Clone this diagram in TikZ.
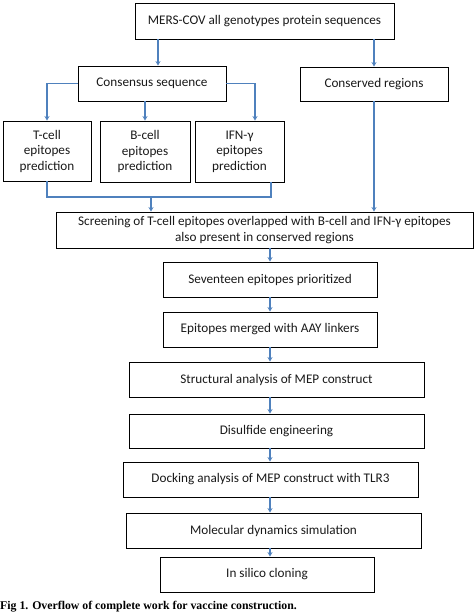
\documentclass[tikz,border=0pt]{standalone}
\usepackage{fontspec}
\setmainfont{Carlito}
\newfontfamily\capfont{Liberation Serif}
\usetikzlibrary{arrows.meta}
\definecolor{flowBlue}{RGB}{79,129,189}
\definecolor{flowText}{RGB}{25,25,25}

\begin{document}
\begin{tikzpicture}[
  x=1pt, y=-1pt,
  font=\fontsize{13.2}{15.5}\selectfont,
  box/.style={draw=black, line width=0.9pt, align=center, inner sep=0pt, text=flowText},
  arrow/.style={-{Stealth[length=4.5pt, width=5pt]}, line width=1.3pt, draw=flowBlue},
  link/.style={line width=1.3pt, draw=flowBlue},
  caption/.style={font=\capfont\bfseries\fontsize{11.8}{13}\selectfont, anchor=base west, inner sep=0pt}
]
\useasboundingbox (0,0) rectangle (474,612);
\clip (0,0) rectangle (474,612);

\node[box, minimum width=259pt, minimum height=36pt] (top) at (264.5,21) {MERS-COV all genotypes protein sequences};
\node[box, minimum width=148pt, minimum height=35pt] (cons) at (152,83.5) {Consensus sequence};
\node[box, minimum width=148pt, minimum height=34pt] (conserved) at (374,84) {Conserved regions};

\node[box, minimum width=88pt, minimum height=60pt] (tcell) at (47,151) {T-cell\\epitopes\\prediction};
\node[box, minimum width=90pt, minimum height=61pt] (bcell) at (145,151.5) {B-cell\\epitopes\\prediction};
\node[box, minimum width=89pt, minimum height=61pt] (ifn) at (239.5,151.5) {IFN-γ\\epitopes\\prediction};

\node[box, minimum width=417pt, minimum height=36pt] (screen) at (264.5,230) {Screening of T-cell epitopes overlapped with B-cell and IFN-γ epitopes\\also present in conserved regions};

\node[box, minimum width=214pt, minimum height=35pt] (seventeen) at (270,279.5) {Seventeen epitopes prioritized};
\node[box, minimum width=214pt, minimum height=35pt] (merged) at (270,329.5) {Epitopes merged with AAY linkers};
\node[box, minimum width=295pt, minimum height=35pt] (struct) at (276.5,379.5) {Structural analysis of MEP construct};
\node[box, minimum width=295pt, minimum height=34pt] (disulf) at (276.5,431) {Disulfide engineering};
\node[box, minimum width=295pt, minimum height=35pt] (dock) at (270.5,479.5) {Docking analysis of MEP construct with TLR3};
\node[box, minimum width=295pt, minimum height=35pt] (molec) at (273.5,530.5) {Molecular dynamics simulation};
\node[box, minimum width=214pt, minimum height=35pt] (silico) at (267,574.5) {In silico cloning};

\node[caption] (cap) at (0,609.3) {Fig 1. Overflow of complete work for vaccine construction.};

% top level branches
\draw[arrow] ([xshift=6pt]cons.north |- top.south) -- ([xshift=6pt]cons.north);
\draw[arrow] (conserved.north |- top.south) -- (conserved.north);

% consensus to the three predictions
\draw[arrow] (cons.west) -| (tcell.north);
\draw[arrow] (bcell.north |- cons.south) -- (bcell.north);
\draw[arrow] (cons.east) -| ([xshift=15.5pt]ifn.north);

% joining the predictions
\coordinate (join) at (151,197);
\draw[link] (tcell.south) |- ([xshift=31.5pt]ifn.south |- join) -- ([xshift=31.5pt]ifn.south);
\draw[arrow] (join) -- (join |- screen.north);
\draw[arrow] (conserved.south) -- (conserved.south |- screen.north);

% main chain
\foreach \a/\b in {screen/seventeen, seventeen/merged, merged/struct, struct/disulf, disulf/dock, dock/molec, molec/silico}
  \draw[arrow] (\a.south -| seventeen) -- (\b.north -| seventeen);
\end{tikzpicture}
\end{document}
